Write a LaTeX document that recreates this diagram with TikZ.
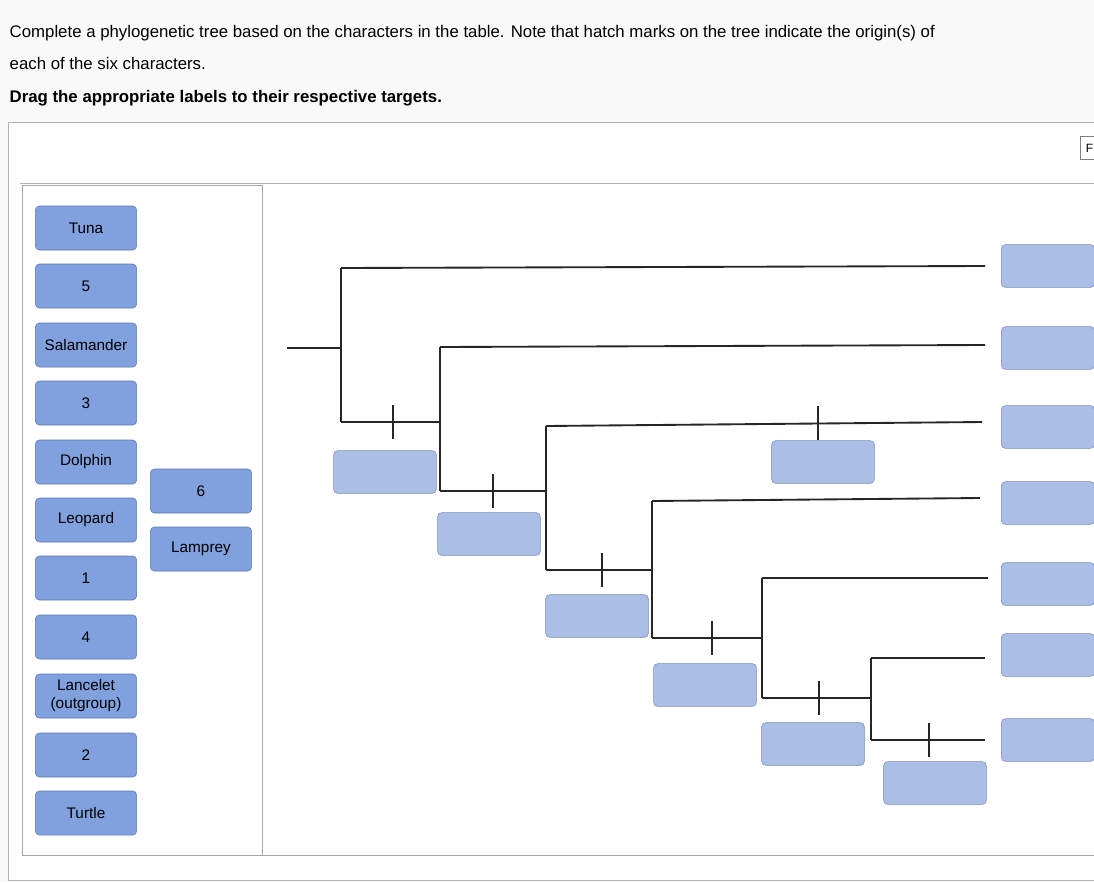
\documentclass[tikz,border=0pt]{standalone}
\usepackage{fontspec}
\setmainfont{Liberation Sans}
\definecolor{labfill}{RGB}{128,160,222}
\definecolor{labdraw}{RGB}{95,120,175}
\definecolor{tgtfill}{RGB}{170,190,230}
\definecolor{tgtdraw}{RGB}{120,140,185}
\begin{document}
\begin{tikzpicture}[x=0.75pt,y=-0.75pt,
  lab/.style={draw=labdraw,fill=labfill,rounded corners=3pt,minimum width=76pt,minimum height=33pt,font=\fontsize{11.5}{13.5}\selectfont,align=center,inner sep=1pt},
  tgt/.style={draw=tgtdraw,fill=tgtfill,rounded corners=3pt,minimum width=77pt,minimum height=32pt},
  tree/.style={line width=1.4pt,black!85}]
\useasboundingbox (0,0) rectangle (1094,882);
\fill[white!95!gray] (0,0) rectangle (1094,882);
\node[anchor=west,font=\fontsize{12.6}{15}\selectfont] (t1) at (5,33) {Complete a phylogenetic tree based on the characters in the table. Note that hatch marks on the tree indicate the origin(s) of};
\node[anchor=west,font=\fontsize{12.6}{15}\selectfont] (t2) at (5,63) {each of the six characters.};
\node[anchor=west,font=\bfseries\fontsize{12.6}{15}\selectfont] (t3) at (5,98) {Drag the appropriate labels to their respective targets.};
\draw[gray!60,fill=white] (8,122) rectangle (1100,880);
\draw[gray!60] (20,183) -- (1094,183);
\draw[gray!70] (22,185) rectangle (262,855);
\draw[gray!70] (262,855) -- (1094,855);
\node[draw=gray,fill=white,minimum width=14pt,minimum height=17pt,font=\small,anchor=west] (fb) at (1080,148) {F};
% labels
\foreach \n/\t/\y in {a/Tuna/228,b/5/286,c/Salamander/345,d/3/403,e/Dolphin/462,f/Leopard/520,g/1/578,h/4/637,i/{Lancelet\\(outgroup)}/696,j/2/755,k/Turtle/813}
  \node[lab] (L\n) at (86,\y) {\t};
\node[lab] (L6) at (201,491) {6};
\node[lab] (Llam) at (201,549) {Lamprey};
% targets
\node[tgt] (T1) at (385,472) {};
\node[tgt] (T2) at (489,534) {};
\node[tgt] (T3) at (597,616) {};
\node[tgt] (T4) at (705,685) {};
\node[tgt] (T5) at (813,744) {};
\node[tgt] (T6) at (935,783) {};
\node[tgt] (T7) at (823,462) {};
\foreach \n/\y in {1/266,2/348,3/427,4/503,5/584,6/655,7/740}
  \node[tgt,minimum width=70pt,anchor=west] (R\n) at (1001,\y) {};
% tree
\coordinate (r0) at (287,348);
\draw[tree] (r0) -- (341,348);
\draw[tree] (341,268) -- (341,422);
\draw[tree] (341,268) -- (985,266);
\draw[tree] (341,422) -- (440,422);
\draw[tree] (440,347) -- (440,491);
\draw[tree] (440,347) -- (985,345);
\draw[tree] (440,491) -- (546,491);
\draw[tree] (546,426) -- (546,570);
\draw[tree] (546,426) -- (982,422);
\draw[tree] (546,570) -- (652,570);
\draw[tree] (652,501) -- (652,638);
\draw[tree] (652,501) -- (980,498);
\draw[tree] (652,638) -- (762,638);
\draw[tree] (762,578) -- (762,698);
\draw[tree] (762,578) -- (988,578);
\draw[tree] (762,698) -- (871,698);
\draw[tree] (871,658) -- (871,740);
\draw[tree] (871,658) -- (985,658);
\draw[tree] (871,740) -- (985,740);
% hatches
\foreach \x/\y in {393/422,493/491,818/423,602/570,712/638,819/698,929/740}
  \draw[tree] (\x,\y-17) -- (\x,\y+17);
\end{tikzpicture}
\end{document}
